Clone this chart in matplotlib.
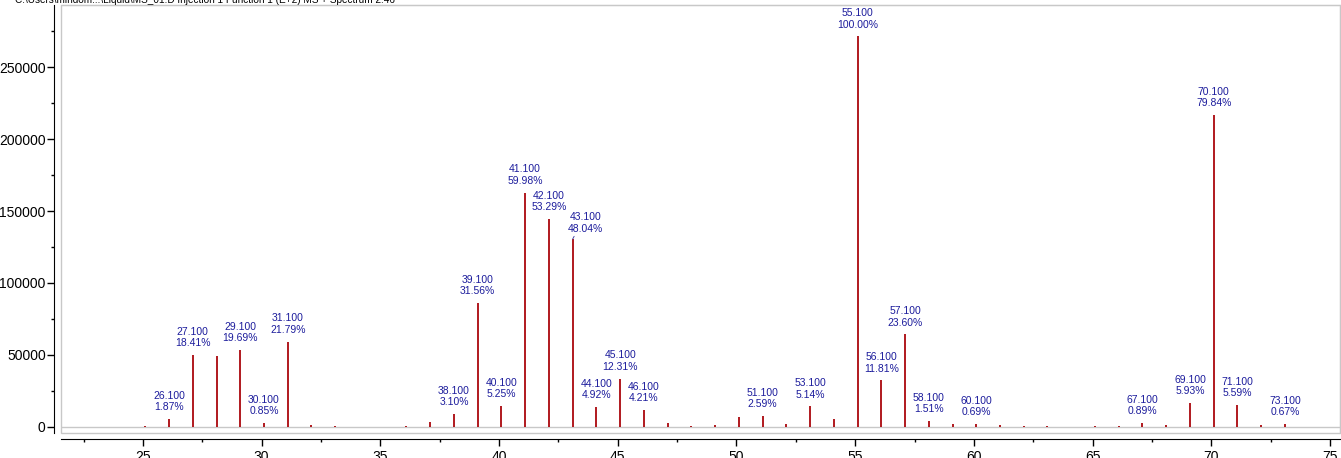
import matplotlib
matplotlib.use("Agg")
import matplotlib.pyplot as plt
from matplotlib.patches import Rectangle
from matplotlib.ticker import MultipleLocator

plt.rcParams["font.family"] = ["Liberation Sans", "DejaVu Sans"]

BASE_PEAK = 271500  # intensity of the 100% peak

# labelled peaks: m/z and relative abundance (%)
label_mz = [26.1, 27.1, 29.1, 30.1, 31.1, 38.1, 39.1, 40.1, 41.1, 42.1, 43.1,
            44.1, 45.1, 46.1, 51.1, 53.1, 55.1, 56.1, 57.1, 58.1, 60.1,
            67.1, 69.1, 70.1, 71.1, 73.1]
label_pct = [1.87, 18.41, 19.69, 0.85, 21.79, 3.10, 31.56, 5.25, 59.98, 53.29, 48.04,
             4.92, 12.31, 4.21, 2.59, 5.14, 100.00, 11.81, 23.60, 1.51, 0.69,
             0.89, 5.93, 79.84, 5.59, 0.67]

# unlabelled minor peaks
minor_mz = [25.1, 28.1, 32.1, 33.1, 36.1, 37.1, 47.1, 48.1, 49.1, 50.1, 52.1,
            54.1, 59.1, 61.1, 62.1, 63.1, 65.1, 66.1, 68.1, 72.1]
minor_pct = [0.2, 18.0, 0.5, 0.15, 0.15, 1.15, 0.9, 0.1, 0.4, 2.4, 0.65,
             1.9, 0.6, 0.35, 0.25, 0.12, 0.12, 0.2, 0.3, 0.4]

# labels that were nudged sideways to avoid overlap (x offset in points)
label_shift = {43.1: 9}

TITLE = "C:\\Users\\mindom...\\Liquid\\MS_01.D Injection 1 Function 1 (E+2) MS + Spectrum 2.46"

PEAK_COLOR = "#b0191e"
LABEL_COLOR = "#1c1c9c"
BOX_COLOR = "#c8c8c8"

fig = plt.figure(figsize=(13.41, 4.58), dpi=100)
ax = fig.add_axes([61 / 1341, 25 / 458, 1279 / 1341, 428 / 458])

all_mz = label_mz + minor_mz
all_int = [p / 100 * BASE_PEAK for p in label_pct + minor_pct]
ax.vlines(all_mz, 0, all_int, color=PEAK_COLOR, lw=1.4)

ax.axhline(0, color=BOX_COLOR, lw=1, zorder=0)

for mz, pct in zip(label_mz, label_pct):
    y = pct / 100 * BASE_PEAK
    dx = label_shift.get(mz, 0)
    arrow = None
    if dx:
        arrow = dict(arrowstyle="-", color="#4a4aa8", lw=0.7, shrinkA=0, shrinkB=0,
                     connectionstyle="arc3,rad=0.1")
    ax.annotate(f"{mz:.3f}\n{pct:.2f}%", xy=(mz, y), xytext=(dx, 5 if not dx else 4),
                textcoords="offset points", ha="center", va="bottom",
                fontsize=7.5, color=LABEL_COLOR, linespacing=1.15,
                arrowprops=arrow)

ax.set_xlim(21.55, 75.42)
ax.set_ylim(-4500, 293400)

ax.xaxis.set_major_locator(MultipleLocator(5))
ax.xaxis.set_minor_locator(MultipleLocator(2.5))
ax.yaxis.set_major_locator(MultipleLocator(50000))
ax.yaxis.set_minor_locator(MultipleLocator(25000))

ax.tick_params(axis="both", which="major", labelsize=10, length=5, width=1, color="black")
ax.tick_params(axis="both", which="minor", length=2.5, width=1)
ax.tick_params(axis="y", pad=1)
ax.tick_params(axis="x", pad=3)

for side in ["top", "right"]:
    ax.spines[side].set_color(BOX_COLOR)
ax.spines["left"].set_position(("outward", 5))
ax.spines["bottom"].set_position(("outward", 4))
ax.add_patch(Rectangle((0, 0), 1, 1, transform=ax.transAxes, fill=False,
                       ec=BOX_COLOR, lw=1, clip_on=False))

# file path title, partly cut off at the top edge as in the original export
fig.text(395 / 1341, 1 - 3 / 458, TITLE, ha="right", va="baseline", fontsize=7.2)

fig.savefig("out.png", dpi=100)
